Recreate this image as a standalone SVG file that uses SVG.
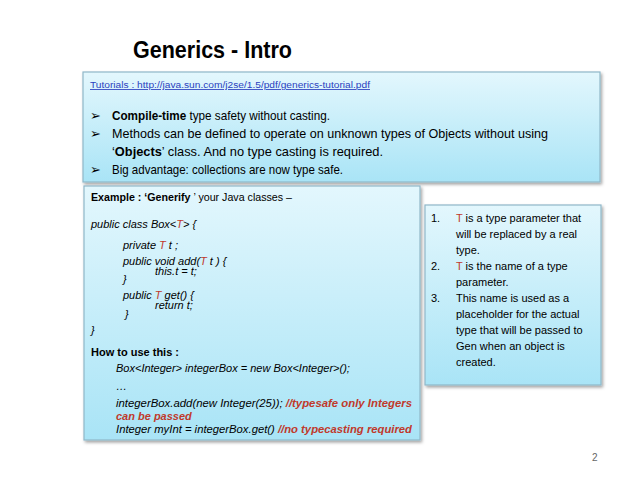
<svg xmlns="http://www.w3.org/2000/svg" width="638" height="478" viewBox="0 0 638 478">
<defs>
<linearGradient id="g" x1="0" y1="0" x2="0" y2="1"><stop offset="0" stop-color="#e3f7fd"/><stop offset="1" stop-color="#a9e4f6"/></linearGradient>
<filter id="sh" x="-5%" y="-5%" width="110%" height="115%"><feDropShadow dx="1.5" dy="2" stdDeviation="1.5" flood-color="#000" flood-opacity="0.35"/></filter>
</defs>
<style>
.box{fill:url(#g);stroke:#8fb7c9;stroke-width:1.2;filter:url(#sh)}
text{font-family:"Liberation Sans",Arial,sans-serif;fill:#000}
.b{font-size:13px}
.c{font-size:11px;font-style:italic}
.r{fill:#c0392b}
.n{font-size:11px}
</style>
<rect width="638" height="478" fill="#fff"/>
<g id="title"><text x="133" y="58" font-size="24" font-weight="bold" textLength="159" lengthAdjust="spacingAndGlyphs">Generics - Intro</text></g>
<g id="intro">
<rect class="box" x="83" y="72" width="517" height="110"/>
<text x="90" y="88" font-size="8.5" text-decoration="underline" style="fill:#2a3fbf" textLength="280" lengthAdjust="spacingAndGlyphs">Tutorials : http://java.sun.com/j2se/1.5/pdf/generics-tutorial.pdf</text>
<text class="b" x="90" y="120">➢</text><text class="b" x="112" y="120" textLength="218" lengthAdjust="spacingAndGlyphs"><tspan font-weight="bold">Compile-time</tspan> type safety without casting.</text>
<text class="b" x="90" y="138">➢</text><text class="b" x="112" y="138" textLength="436" lengthAdjust="spacingAndGlyphs">Methods can be defined to operate on unknown types of Objects without using</text>
<text class="b" x="112" y="156" textLength="271" lengthAdjust="spacingAndGlyphs">‘<tspan font-weight="bold">Objects</tspan>’ class. And no type casting is required.</text>
<text class="b" x="90" y="174">➢</text><text class="b" x="112" y="174" textLength="231" lengthAdjust="spacingAndGlyphs">Big advantage: collections are now type safe.</text>
</g>
<g id="example">
<rect class="box" x="84" y="186" width="336" height="254"/>
<text x="91" y="201" font-size="11" textLength="201" lengthAdjust="spacingAndGlyphs"><tspan font-weight="bold">Example : ‘Generify</tspan> ’ your Java classes –</text>
<text class="c" x="91" y="228">public class Box&lt;<tspan class="r">T</tspan>&gt; {</text>
<text class="c" x="123" y="249">private <tspan class="r">T</tspan> t ;</text>
<text class="c" x="123" y="265">public void add(<tspan class="r">T</tspan> t ) {</text>
<text class="c" x="155" y="275">this.t = t;</text>
<text class="c" x="123" y="283">}</text>
<text class="c" x="123" y="299">public <tspan class="r">T</tspan> get() {</text>
<text class="c" x="155" y="309">return t;</text>
<text class="c" x="125" y="318">}</text>
<text class="c" x="91" y="334">}</text>
<text x="91" y="356" font-size="11" font-weight="bold">How to use this :</text>
<text class="c" x="116" y="372">Box&lt;Integer&gt; integerBox = new Box&lt;Integer&gt;();</text>
<text class="c" x="116" y="390">…</text>
<text class="c" x="116" y="407" textLength="296" lengthAdjust="spacingAndGlyphs">integerBox.add(new Integer(25)); <tspan class="r" font-weight="bold">//typesafe only Integers</tspan></text>
<text class="c r" x="116" y="420" font-weight="bold">can be passed</text>
<text class="c" x="116" y="433" textLength="296" lengthAdjust="spacingAndGlyphs">Integer myInt = integerBox.get() <tspan class="r" font-weight="bold">//no typecasting required</tspan></text>
</g>
<g id="notes">
<rect class="box" x="425" y="205" width="176" height="180"/>
<text class="n" x="431" y="222">1.</text><text class="n" x="456" y="222"><tspan class="r">T</tspan> is a type parameter that</text>
<text class="n" x="456" y="238">will be replaced by a real</text>
<text class="n" x="456" y="254">type.</text>
<text class="n" x="431" y="270">2.</text><text class="n" x="456" y="270"><tspan class="r">T</tspan> is the name of a type</text>
<text class="n" x="456" y="286">parameter.</text>
<text class="n" x="431" y="302">3.</text><text class="n" x="456" y="302">This name is used as a</text>
<text class="n" x="456" y="318">placeholder for the actual</text>
<text class="n" x="456" y="334">type that will be passed to</text>
<text class="n" x="456" y="350">Gen when an object is</text>
<text class="n" x="456" y="366">created.</text>
</g>
<g id="page"><text x="592" y="461" font-size="10" style="fill:#666">2</text></g>
<g id="connectors"/>
</svg>
